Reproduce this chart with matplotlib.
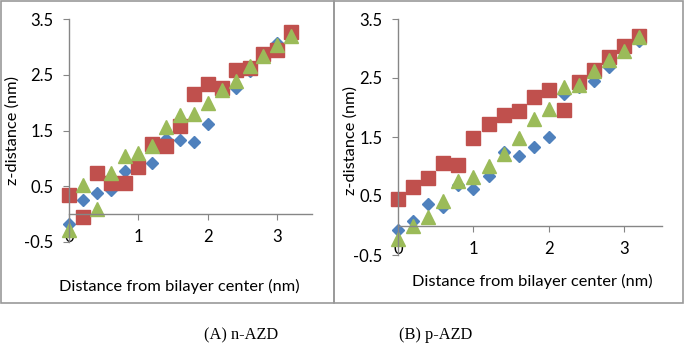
import numpy as np
import matplotlib.pyplot as plt
from matplotlib.patches import Rectangle

# distance from bilayer center (nm)
dist = [0.0, 0.2, 0.4, 0.6, 0.8, 1.0, 1.2, 1.4, 1.6, 1.8,
        2.0, 2.2, 2.4, 2.6, 2.8, 3.0, 3.2]

# (A) n-AZD
a_blue = [-0.17, 0.25, 0.37, 0.44, 0.77, 0.90, 0.91, 1.34, 1.33, 1.30,
          1.61, 2.23, 2.27, 2.56, 2.83, 3.07, 3.22]
a_red = [0.35, -0.06, 0.73, 0.55, 0.56, 0.85, 1.26, 1.23, 1.58, 2.15,
         2.33, 2.26, 2.59, 2.63, 2.88, 2.95, 3.26]
a_green = [-0.29, 0.52, 0.10, 0.73, 1.05, 1.10, 1.23, 1.57, 1.78, 1.79,
           2.00, 2.23, 2.38, 2.65, 2.83, 3.03, 3.20]

# (B) p-AZD
b_blue = [-0.07, 0.07, 0.36, 0.32, 0.68, 0.62, 0.84, 1.25, 1.18, 1.33,
          1.50, 2.23, 2.34, 2.45, 2.69, 2.97, 3.12]
b_red = [0.45, 0.65, 0.81, 1.06, 1.03, 1.48, 1.72, 1.87, 1.94, 2.18,
         2.29, 1.95, 2.44, 2.63, 2.85, 3.04, 3.22]
b_green = [-0.23, 0.00, 0.14, 0.42, 0.76, 0.82, 1.01, 1.22, 1.48, 1.81,
           1.98, 2.34, 2.38, 2.62, 2.80, 2.95, 3.19]

yticks = [-0.5, 0.5, 1.5, 2.5, 3.5]
xticks = [0, 1, 2, 3]
captions = ["(A) n-AZD", "(B) p-AZD"]

blue = '#4F81BD'
red = '#C0504D'
green = '#9BBB59'
axcol = '#868686'

plt.rcParams['font.family'] = ['Lato', 'DejaVu Sans']

fig = plt.figure(figsize=(6.85, 3.48), dpi=100)

# panel frames
fig.patches.append(Rectangle((1/685, 1 - 303/348), 333/685, 302/348,
                             transform=fig.transFigure, fill=False,
                             edgecolor='#999999', lw=1.2))
fig.patches.append(Rectangle((334/685, 1 - 303/348), 348.5/685, 302/348,
                             transform=fig.transFigure, fill=False,
                             edgecolor='#999999', lw=1.2))

def panel(rect, b, r, g):
    ax = fig.add_axes(rect)
    ax.plot(dist, b, 'D', color=blue, ms=6.6, mec=blue, ls='none', clip_on=False)
    ax.plot(dist, r, 's', color=red, ms=9.7, mec=red, ls='none', clip_on=False)
    ax.plot(dist, g, '^', color=green, ms=10.5, mec=green, ls='none', clip_on=False)
    ax.set_xlim(0, 3.5)
    ax.set_ylim(-0.5, 3.5)
    ax.set_yticks(yticks)
    ax.set_yticklabels([str(v) for v in yticks])
    ax.set_xticks(xticks)
    ax.spines['top'].set_visible(False)
    ax.spines['right'].set_visible(False)
    ax.spines['bottom'].set_position(('data', 0))
    for s in ['left', 'bottom']:
        ax.spines[s].set_color(axcol)
        ax.spines[s].set_linewidth(1.0)
    ax.tick_params(axis='y', direction='out', length=4, color=axcol,
                   labelsize=12, pad=7)
    ax.tick_params(axis='x', direction='out', length=4, color=axcol,
                   labelsize=12, pad=7)
    ax.patch.set_alpha(0)
    return ax

panel([69/685, 1 - 242/348, 243/685, 223/348], a_blue, a_red, a_green)
panel([398/685, 1 - 255/348, 264/685, 236/348], b_blue, b_red, b_green)

fig.text(13/685, 1 - 130/348, 'z-distance (nm)', rotation=90,
         ha='center', va='center', fontsize=11.8)
fig.text(351/685, 1 - 140/348, 'z-distance (nm)', rotation=90,
         ha='center', va='center', fontsize=11.8)
fig.text(179/685, 1 - 286/348, 'Distance from bilayer center (nm)',
         ha='center', va='center', fontsize=11.8)
fig.text(532/685, 1 - 281/348, 'Distance from bilayer center (nm)',
         ha='center', va='center', fontsize=11.8)

fig.text(241/685, 1 - 335/348, captions[0], ha='center', va='center',
         fontsize=11.8, family='Liberation Serif')
fig.text(436/685, 1 - 335/348, captions[1], ha='center', va='center',
         fontsize=11.8, family='Liberation Serif')

fig.savefig('out.png', dpi=100)
